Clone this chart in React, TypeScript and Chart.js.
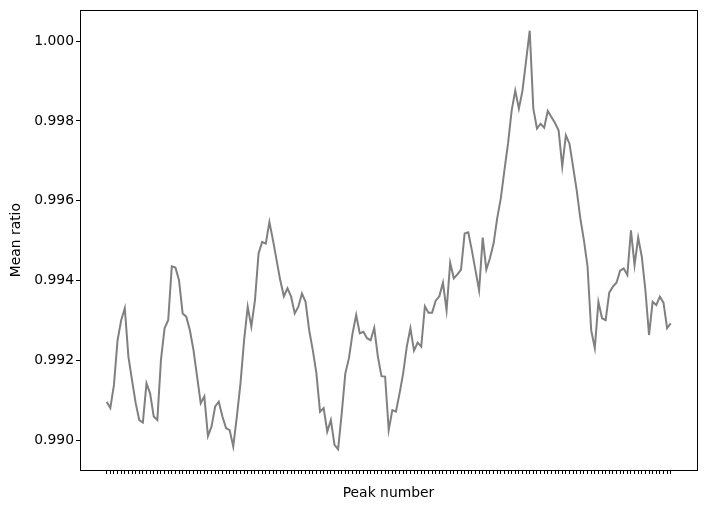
import React, { useEffect, useRef } from 'react';
import { Chart, registerables } from 'chart.js';

Chart.register(...registerables);

const meanRatio = [
  0.99097, 0.99081, 0.99139, 0.99251, 0.99301, 0.99331, 0.9921, 0.99151, 0.99094, 0.99051,
  0.99045, 0.99143, 0.99118, 0.9906, 0.99051, 0.99201, 0.99281, 0.99301, 0.99436, 0.99433,
  0.99401, 0.99318, 0.9931, 0.99276, 0.99226, 0.9916, 0.99093, 0.9911, 0.99011, 0.99035,
  0.99085, 0.99097, 0.9906, 0.99031, 0.99026, 0.98985, 0.9906, 0.99143, 0.99251, 0.99335,
  0.99285, 0.99351, 0.99468, 0.99497, 0.99493, 0.99547, 0.99501, 0.99451, 0.99401, 0.99361,
  0.99381, 0.9936, 0.99318, 0.99335, 0.99368, 0.99347, 0.99276, 0.99226, 0.99168, 0.99072,
  0.99081, 0.99022, 0.99051, 0.98989, 0.98978, 0.99068, 0.99168, 0.99206, 0.99268, 0.99314,
  0.99268, 0.99272, 0.99256, 0.99251, 0.99282, 0.9921, 0.99161, 0.9916, 0.99026, 0.99076,
  0.99072, 0.99118, 0.99168, 0.99235, 0.99281, 0.99225, 0.99245, 0.99235, 0.99336, 0.9932,
  0.9932, 0.9935, 0.99361, 0.99395, 0.99326, 0.99445, 0.99406, 0.99416, 0.99428, 0.99518,
  0.99521, 0.99476, 0.99426, 0.99376, 0.99508, 0.99428, 0.99456, 0.99493, 0.99556, 0.99606,
  0.99676, 0.99743, 0.99826, 0.99876, 0.99831, 0.99876, 0.99951, 1.00026, 0.99831, 0.99781,
  0.99793, 0.99783, 0.99825, 0.9981, 0.99795, 0.99776, 0.99686, 0.99764, 0.99743, 0.99685,
  0.99626, 0.99556, 0.99501, 0.99435, 0.99276, 0.99231, 0.99347, 0.99306, 0.99301, 0.9937,
  0.99385, 0.99395, 0.99425, 0.99431, 0.99414, 0.99526, 0.99439, 0.99508, 0.9946, 0.99376,
  0.99264, 0.99347, 0.99339, 0.9936, 0.99345, 0.99281, 0.99293,
];

const peakNumbers = meanRatio.map((_, i) => i);
const yTickValues = [0.99, 0.992, 0.994, 0.996, 0.998, 1.0];
const xTitle = 'Peak number';
const yTitle = 'Mean ratio';

const FONT = 'DejaVu Sans';

const framePlugin = {
  id: 'frame',
  afterDraw(chart: any) {
    const { ctx, chartArea: a } = chart;
    ctx.save();
    ctx.strokeStyle = '#000';
    ctx.lineWidth = 1;
    ctx.strokeRect(Math.round(a.left) + 0.5, Math.round(a.top) + 0.5, Math.round(a.right - a.left), Math.round(a.bottom - a.top));
    ctx.restore();
  },
};

export default function App() {
  const ref = useRef<HTMLCanvasElement | null>(null);

  useEffect(() => {
    document.body.style.margin = '0';
    const canvas = ref.current;
    if (!canvas) return;
    const chart = new Chart(canvas, {
      type: 'line',
      data: {
        datasets: [
          {
            data: peakNumbers.map((p, i) => ({ x: p, y: meanRatio[i] })),
            borderColor: '#808080',
            borderWidth: 2,
            pointRadius: 0,
            tension: 0,
            fill: false,
          },
        ],
      },
      options: {
        animation: false,
        responsive: false,
        devicePixelRatio: 1,
        layout: { padding: { top: 8, right: 12, left: 0, bottom: 0 } },
        plugins: { legend: { display: false }, tooltip: { enabled: false } },
        scales: {
          x: {
            type: 'linear',
            min: -7.39,
            max: 163.27,
            afterBuildTicks: (axis: any) => {
              axis.ticks = peakNumbers.map((v) => ({ value: v }));
            },
            afterFit: (scale: any) => {
              scale.height = 41;
            },
            ticks: {
              autoSkip: false,
              maxRotation: 0,
              minRotation: 0,
              callback: () => '',
              font: { family: FONT, size: 13.9 },
              color: '#000',
            },
            grid: { drawOnChartArea: false, drawTicks: true, tickLength: 4, color: '#000', lineWidth: 1 },
            border: { display: false },
            title: {
              display: true,
              text: xTitle,
              color: '#000',
              font: { family: FONT, size: 13.9 },
              padding: { top: 0, bottom: 9 },
            },
          },
          y: {
            type: 'linear',
            min: 0.98926,
            max: 1.00077,
            afterBuildTicks: (axis: any) => {
              axis.ticks = yTickValues.map((v) => ({ value: v }));
            },
            afterFit: (scale: any) => {
              scale.width = 80;
            },
            ticks: {
              callback: (v: any) => Number(v).toFixed(3),
              font: { family: FONT, size: 13.9 },
              color: '#000',
              padding: 2,
            },
            grid: { drawOnChartArea: false, drawTicks: true, tickLength: 4, color: '#000', lineWidth: 1 },
            border: { display: false },
            title: {
              display: true,
              text: yTitle,
              color: '#000',
              font: { family: FONT, size: 13.9 },
              padding: { top: 8, bottom: 0 },
            },
          },
        },
      },
      plugins: [framePlugin],
    });
    return () => chart.destroy();
  }, []);

  return (
    <div style={{ width: 709, height: 511 }}>
      <canvas ref={ref} width={709} height={511} style={{ display: 'block', width: 709, height: 511 }} />
    </div>
  );
}
